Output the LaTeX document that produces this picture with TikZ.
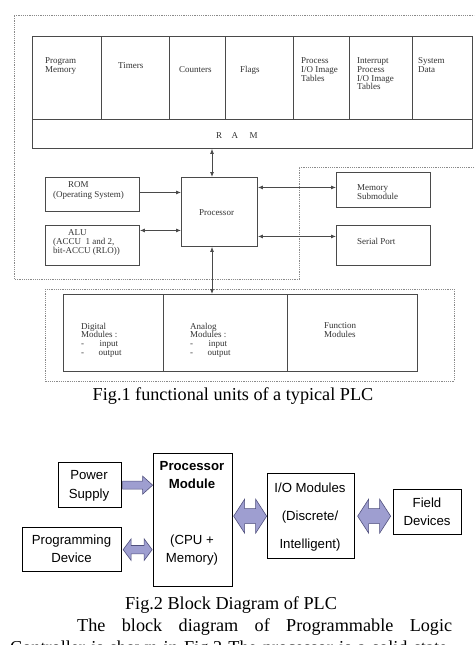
\documentclass[tikz,border=0pt]{standalone}
\usepackage{fontspec}
\setmainfont{Liberation Serif}
\newfontfamily\sansfig{Liberation Sans}
\usetikzlibrary{arrows.meta,calc}
\definecolor{boxline}{HTML}{4A4A4A}
\definecolor{txtgray}{HTML}{333333}
\definecolor{dashgray}{HTML}{8A8A8A}
\definecolor{lav}{RGB}{158,158,208}
\definecolor{lavdark}{RGB}{80,80,125}
\begin{document}
\begin{tikzpicture}[x=1pt,y=-1pt,
  ubox/.style={draw=boxline, line width=0.9pt, rectangle, inner sep=0pt, anchor=north west},
  utxt/.style={inner sep=0pt, text=txtgray, font=\fontsize{9}{8.8}\selectfont, align=left, anchor=north west},
  dashbox/.style={draw=dashgray, line width=0.7pt, dash pattern=on 1.2pt off 1pt},
  sarr/.style={draw=boxline, line width=0.8pt, -{Latex[length=5pt,width=4pt]}},
  darr/.style={draw=boxline, line width=0.8pt, {Latex[length=5pt,width=4pt]}-{Latex[length=5pt,width=4pt]}},
  bbox/.style={draw=black, line width=1.3pt, rectangle, inner sep=0pt, anchor=north west},
  btxt/.style={inner sep=0pt, font=\sansfig\fontsize{13.2}{18}\selectfont, align=center, anchor=north},
  fat/.style={fill=lav, draw=lavdark, line width=0.6pt, line join=miter},
  figcap/.style={inner sep=0pt, font=\fontsize{18.2}{22}\selectfont}
]
\useasboundingbox (0,0) rectangle (474,645);
\clip (0,0) rectangle (474,645);
\fill[white] (0,0) rectangle (474,645);

% ---------------- Fig. 1 ----------------
\draw[dashbox] (474,167) -- (299,167) -- (299,279) -- (14,279) -- (14,15) -- (474,15);
\draw[dashbox] (45,289) rectangle (454,381);

\node[ubox, minimum width=69pt, minimum height=83pt] (pmem) at (32,36) {};
\node[ubox, minimum width=68pt, minimum height=83pt] (tim) at (101,36) {};
\node[ubox, minimum width=56pt, minimum height=83pt] (cnt) at (169,36) {};
\node[ubox, minimum width=68pt, minimum height=83pt] (flg) at (225,36) {};
\node[ubox, minimum width=56pt, minimum height=83pt] (pio) at (293,36) {};
\node[ubox, minimum width=63pt, minimum height=83pt] (iio) at (349,36) {};
\node[ubox, minimum width=60pt, minimum height=83pt] (sdt) at (412,36) {};
\node[ubox, minimum width=440pt, minimum height=29pt] (ram) at (32,119) {};

\node[utxt] (tpmem) at (45,57.3) {Program\\Memory};
\node[utxt] (ttim) at (118,62) {Timers};
\node[utxt] (tcnt) at (179,66.5) {Counters};
\node[utxt] (tflg) at (240,66.5) {Flags};
\node[utxt] (tpio) at (301,57.5) {Process\\I/O Image\\Tables};
\node[utxt] (tiio) at (357,57.5) {Interrupt\\Process\\I/O Image\\Tables};
\node[utxt] (tsdt) at (418,57.5) {System\\Data};
\node[utxt, anchor=base west] (tram) at (216,138) {R\hspace{9.5pt}A\hspace{11.5pt}M};

\node[ubox, minimum width=94pt, minimum height=34pt] (rom) at (45,177) {};
\node[ubox, minimum width=94pt, minimum height=40pt] (alu) at (45,225) {};
\node[ubox, minimum width=76pt, minimum height=69pt] (proc) at (181,177) {};
\node[ubox, minimum width=94pt, minimum height=35pt] (mem) at (336,172) {};
\node[ubox, minimum width=94pt, minimum height=40pt] (ser) at (336,225) {};

\node[utxt, font=\fontsize{9}{9.5}\selectfont] (trom) at (53,181.5) {\hspace*{15pt}ROM\\(Operating System)};
\node[utxt, font=\fontsize{9}{9.3}\selectfont] (talu) at (53,229) {\hspace*{15pt}ALU\\(ACCU\ \ 1 and 2,\\bit-ACCU (RLO))};
\node[utxt, anchor=base] (tproc) at (216.5,215.5) {Processor};
\node[utxt] (tmem) at (357,184.5) {Memory\\Submodule};
\node[utxt, anchor=base west] (tser) at (357,244.7) {Serial Port};

\node[ubox, minimum width=100pt, minimum height=77pt] (dig) at (63,294) {};
\node[ubox, minimum width=124pt, minimum height=77pt] (ana) at (163,294) {};
\node[ubox, minimum width=130pt, minimum height=77pt] (fun) at (287,294) {};

\node[utxt, font=\fontsize{9}{8.7}\selectfont] (tdig) at (81,322.8) {Digital\\Modules :\\\makebox[18.5pt][l]{-}input\\\makebox[17.5pt][l]{-}output};
\node[utxt, font=\fontsize{9}{8.7}\selectfont] (tana) at (190,322.8) {Analog\\Modules :\\\makebox[18.5pt][l]{-}input\\\makebox[17.5pt][l]{-}output};
\node[utxt, font=\fontsize{9}{8.7}\selectfont] (tfun) at (324,322.8) {Function\\Modules};

\coordinate (vx) at (212,0);
\draw[darr] (vx |- ram.south) -- (vx |- proc.north);
\draw[darr] (vx |- proc.south) -- (vx |- dig.north);
\draw[sarr] ($(rom.east)+(0,-2)$) -- ($(rom.east -| proc.west)+(0,-2)$);
\draw[darr] ($(alu.east)+(0,-15)$) -- ($(alu.east -| proc.west)+(0,-15)$);
\draw[darr] ($(mem.west -| proc.east)+(0,-2.5)$) -- ($(mem.west)+(0,-2.5)$);
\draw[darr] ($(ser.west -| proc.east)+(0,-9)$) -- ($(ser.west)+(0,-9)$);

\node[figcap, anchor=base] (cap1) at (233,400) {Fig.1 functional units of a typical PLC};

% ---------------- Fig. 2 ----------------
\node[bbox, minimum width=63pt, minimum height=45pt] (ps) at (58,462) {};
\node[bbox, minimum width=99pt, minimum height=44pt] (pd) at (22,527) {};
\node[bbox, minimum width=79pt, minimum height=133pt] (pm) at (153,453) {};
\node[bbox, minimum width=87pt, minimum height=85pt] (io) at (267,473) {};
\node[bbox, minimum width=68pt, minimum height=45pt] (fd) at (393,489) {};

\node[btxt, font=\sansfig\fontsize{13.2}{18.8}\selectfont] (tps) at (89,470) {Power\\Supply};
\node[btxt, font=\sansfig\fontsize{13.2}{17.7}\selectfont] (tpd) at (71.5,535.2) {Programming\\Device};
\node[btxt, font=\sansfig\bfseries\fontsize{13.2}{18}\selectfont] (tpm1) at (192,461.3) {Processor\\Module};
\node[btxt, font=\sansfig\fontsize{13.2}{17.7}\selectfont] (tpm2) at (192,535.2) {(CPU +\\Memory)};
\node[btxt, font=\sansfig\fontsize{13.2}{28}\selectfont] (tio) at (310,482.3) {I/O Modules\\(Discrete/\\Intelligent)};
\node[btxt, font=\sansfig\fontsize{13.2}{18.4}\selectfont] (tfd) at (427,497.8) {Field\\Devices};

\coordinate (a1) at ($(ps.east)!.5!(ps.east -| pm.west)$);
\coordinate (a2) at ($(pd.east)!.5!(pd.east -| pm.west)$);
\coordinate (a3) at ($(pm.east |- io.west)!.5!(io.west)$);
\coordinate (a4) at ($(io.east)!.5!(io.east -| fd.west)$);

\draw[fat] (a1) ++(-15,-4) -- ++(20,0) -- ++(0,-5) -- ++(10,9) -- ++(-10,9) -- ++(0,-5) -- ++(-20,0) -- cycle;
\draw[fat] (a2) ++(-14.5,0) -- ++(8,-10.8) -- ++(0,6.6) -- ++(13,0) -- ++(0,-6.6) -- ++(8,10.8) -- ++(-8,10.8) -- ++(0,-6.6) -- ++(-13,0) -- ++(0,6.6) -- cycle;
\draw[fat] (a3) ++(-16.5,0) -- ++(11,-17) -- ++(0,9.5) -- ++(11,0) -- ++(0,-9.5) -- ++(11,17) -- ++(-11,17) -- ++(0,-9.5) -- ++(-11,0) -- ++(0,9.5) -- cycle;
\draw[fat] (a4) ++(-16.5,0) -- ++(11,-17) -- ++(0,9.5) -- ++(11,0) -- ++(0,-9.5) -- ++(11,17) -- ++(-11,17) -- ++(0,-9.5) -- ++(-11,0) -- ++(0,9.5) -- cycle;

\node[figcap, anchor=base] (cap2) at (231,609) {Fig.2 Block Diagram of PLC};
\node[figcap, anchor=base west] (body1) at (77,631) {\makebox[375pt][s]{The block diagram of Programmable Logic}};
\node[figcap, anchor=base west] (body2) at (10,653) {\makebox[437pt][s]{Controller is shown in Fig.2 The processor is a solid state}};
\end{tikzpicture}
\end{document}
